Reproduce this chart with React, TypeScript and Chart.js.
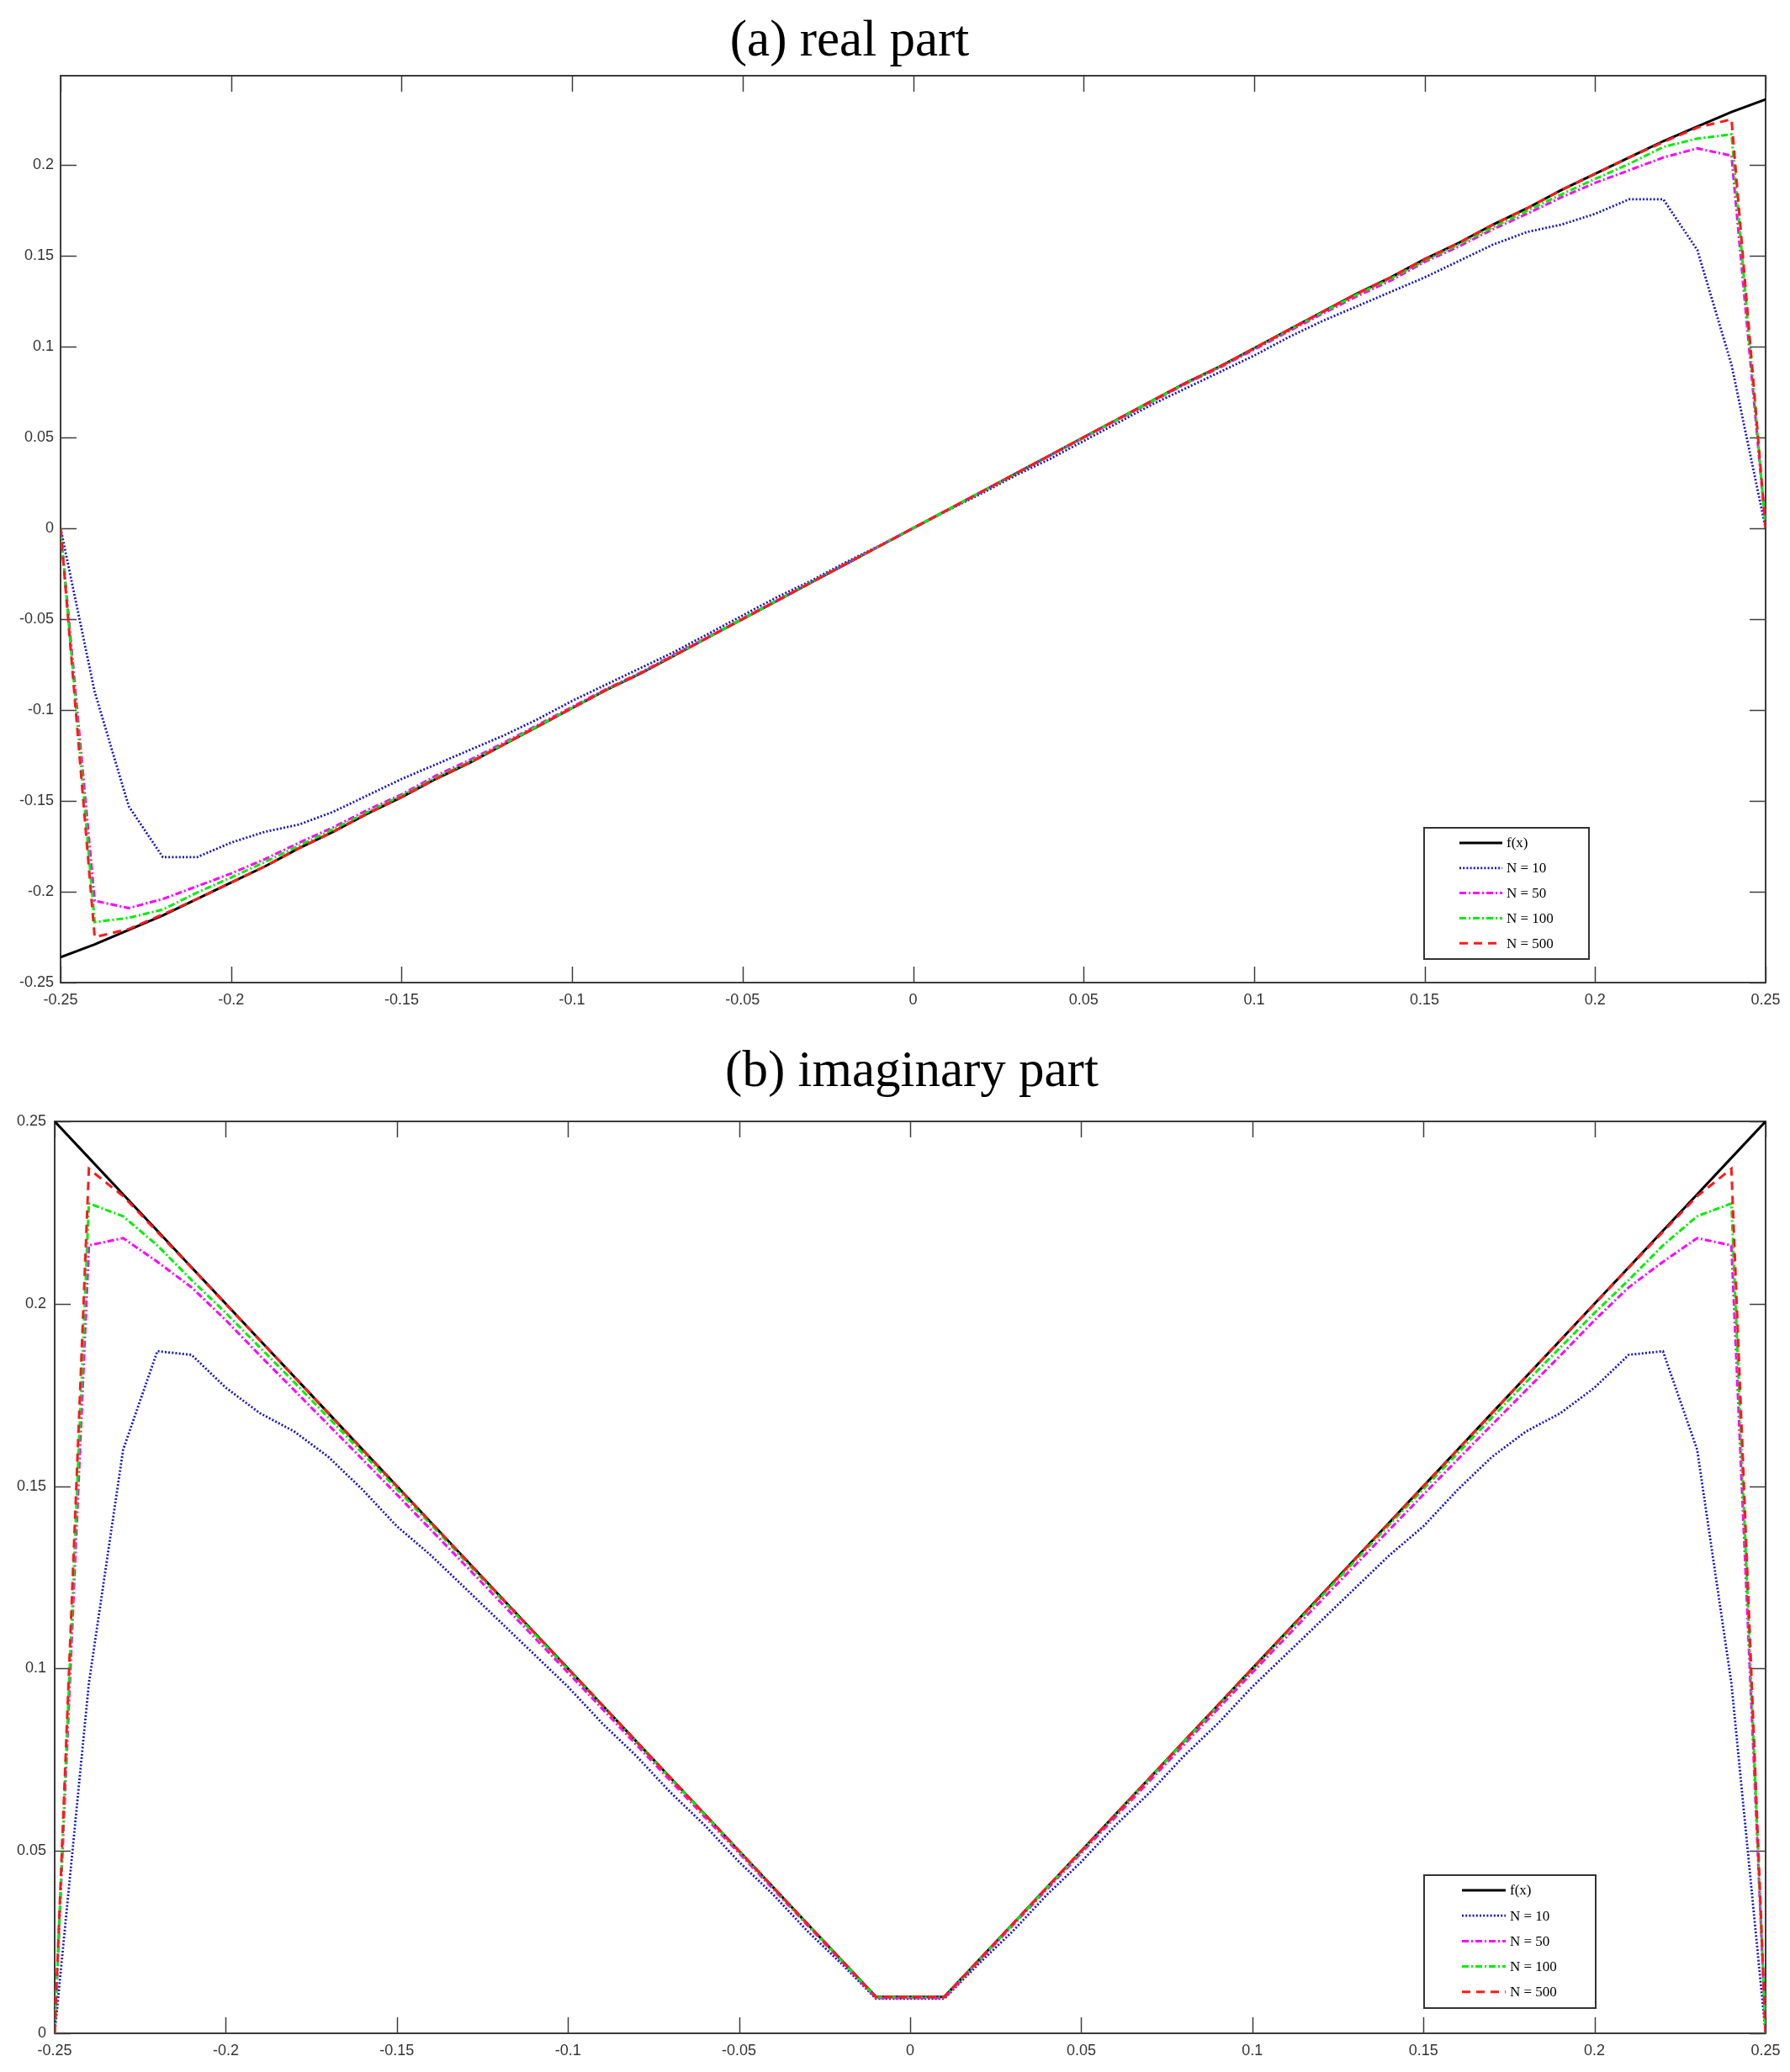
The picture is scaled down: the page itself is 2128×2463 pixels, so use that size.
import React, { useEffect, useRef } from "react";
import { Chart, registerables } from "chart.js";

Chart.register(...registerables);

// ---------- data ----------
const XS = [-0.25,-0.24,-0.23,-0.22,-0.21,-0.2,-0.19,-0.18,-0.17,-0.16,-0.15,-0.14,-0.13,-0.12,-0.11,-0.1,-0.09,-0.08,-0.07,-0.06,-0.05,-0.04,-0.03,-0.02,-0.01,0,0.01,0.02,0.03,0.04,0.05,0.06,0.07,0.08,0.09,0.1,0.11,0.12,0.13,0.14,0.15,0.16,0.17,0.18,0.19,0.2,0.21,0.22,0.23,0.24,0.25];

const X_TICKS = [-0.25,-0.2,-0.15,-0.1,-0.05,0,0.05,0.1,0.15,0.2,0.25];
const RE_Y_TICKS = [-0.25,-0.2,-0.15,-0.1,-0.05,0,0.05,0.1,0.15,0.2];
const IM_Y_TICKS = [0,0.05,0.1,0.15,0.2,0.25];

const LEGEND_LABELS = ["f(x)", "N = 10", "N = 50", "N = 100", "N = 500"];

// (a) real part
const RE_F = [-0.236,-0.229,-0.221,-0.213,-0.204,-0.195,-0.186,-0.176,-0.167,-0.157,-0.148,-0.138,-0.129,-0.119,-0.109,-0.099,-0.089,-0.08,-0.07,-0.06,-0.05,-0.04,-0.03,-0.02,-0.01,0,0.01,0.02,0.03,0.04,0.05,0.06,0.07,0.08,0.089,0.099,0.109,0.119,0.129,0.138,0.148,0.157,0.167,0.176,0.186,0.195,0.204,0.213,0.221,0.229,0.236];
const RE_N10 = [0,-0.09,-0.153,-0.181,-0.181,-0.173,-0.167,-0.163,-0.156,-0.147,-0.138,-0.13,-0.122,-0.114,-0.105,-0.095,-0.086,-0.077,-0.068,-0.058,-0.048,-0.038,-0.029,-0.019,-0.0097,0,0.0097,0.019,0.029,0.038,0.048,0.058,0.068,0.077,0.086,0.095,0.105,0.114,0.122,0.13,0.138,0.147,0.156,0.163,0.167,0.173,0.181,0.181,0.153,0.09,0];
const RE_N50 = [0,-0.205,-0.209,-0.204,-0.197,-0.19,-0.182,-0.173,-0.1645,-0.155,-0.1465,-0.1362,-0.1275,-0.118,-0.1082,-0.0983,-0.0885,-0.0795,-0.0695,-0.0597,-0.0498,-0.0398,-0.0299,-0.0199,-0.0099,0,0.0099,0.0199,0.0299,0.0398,0.0498,0.0597,0.0695,0.0795,0.0885,0.0983,0.1082,0.118,0.1275,0.1362,0.1465,0.155,0.1645,0.173,0.182,0.19,0.197,0.204,0.209,0.205,0];
const RE_N100 = [0,-0.2167,-0.2144,-0.2098,-0.2005,-0.1922,-0.1836,-0.1746,-0.1656,-0.1562,-0.1472,-0.1373,-0.1285,-0.1187,-0.1088,-0.0989,-0.0889,-0.0798,-0.0699,-0.0599,-0.0499,-0.0399,-0.0299,-0.02,-0.01,0,0.01,0.02,0.0299,0.0399,0.0499,0.0599,0.0699,0.0798,0.0889,0.0989,0.1088,0.1187,0.1285,0.1373,0.1472,0.1562,0.1656,0.1746,0.1836,0.1922,0.2005,0.2098,0.2144,0.2167,0];
const RE_N500 = [0,-0.225,-0.2205,-0.2125,-0.204,-0.195,-0.186,-0.176,-0.167,-0.157,-0.148,-0.138,-0.129,-0.119,-0.109,-0.099,-0.089,-0.08,-0.07,-0.06,-0.05,-0.04,-0.03,-0.02,-0.01,0,0.01,0.02,0.03,0.04,0.05,0.06,0.07,0.08,0.089,0.099,0.109,0.119,0.129,0.138,0.148,0.157,0.167,0.176,0.186,0.195,0.204,0.2125,0.2205,0.225,0];

// (b) imaginary part (no sample at x = 0)
const IM_F = [0.25,0.24,0.23,0.22,0.21,0.2,0.19,0.18,0.17,0.16,0.15,0.14,0.13,0.12,0.11,0.1,0.09,0.08,0.07,0.06,0.05,0.04,0.03,0.02,0.01,null,0.01,0.02,0.03,0.04,0.05,0.06,0.07,0.08,0.09,0.1,0.11,0.12,0.13,0.14,0.15,0.16,0.17,0.18,0.19,0.2,0.21,0.22,0.23,0.24,0.25];
const IM_N10 = [0,0.096,0.16,0.187,0.186,0.177,0.17,0.165,0.158,0.149,0.139,0.131,0.122,0.113,0.104,0.095,0.085,0.076,0.066,0.057,0.047,0.038,0.028,0.019,0.0095,null,0.0095,0.019,0.028,0.038,0.047,0.057,0.066,0.076,0.085,0.095,0.104,0.113,0.122,0.131,0.139,0.149,0.158,0.165,0.17,0.177,0.186,0.187,0.16,0.096,0];
const IM_N50 = [0,0.216,0.218,0.2115,0.2045,0.1955,0.1858,0.1763,0.1668,0.1573,0.1477,0.138,0.1283,0.1185,0.1087,0.0989,0.089,0.0791,0.0692,0.0593,0.0494,0.0395,0.0296,0.0197,0.0097,null,0.0097,0.0197,0.0296,0.0395,0.0494,0.0593,0.0692,0.0791,0.089,0.0989,0.1087,0.1185,0.1283,0.138,0.1477,0.1573,0.1668,0.1763,0.1858,0.1955,0.2045,0.2115,0.218,0.216,0];
const IM_N100 = [0,0.2275,0.224,0.216,0.2065,0.1975,0.188,0.1785,0.1688,0.159,0.1492,0.1394,0.1295,0.1196,0.1097,0.0998,0.0899,0.0799,0.0699,0.0599,0.0499,0.0399,0.0299,0.0199,0.0099,null,0.0099,0.0199,0.0299,0.0399,0.0499,0.0599,0.0699,0.0799,0.0899,0.0998,0.1097,0.1196,0.1295,0.1394,0.1492,0.159,0.1688,0.1785,0.188,0.1975,0.2065,0.216,0.224,0.2275,0];
const IM_N500 = [0,0.237,0.2295,0.2197,0.2099,0.1999,0.19,0.18,0.17,0.16,0.15,0.14,0.13,0.12,0.11,0.1,0.09,0.08,0.07,0.06,0.05,0.04,0.03,0.02,0.01,null,0.01,0.02,0.03,0.04,0.05,0.06,0.07,0.08,0.09,0.1,0.11,0.12,0.13,0.14,0.15,0.16,0.17,0.18,0.19,0.1999,0.2099,0.2197,0.2295,0.237,0];

// ---------- styles ----------
const STYLES = [
  { color: "#000000", dash: [] as number[], width: 3 },
  { color: "#1414c8", dash: [2, 2.2], width: 2.8 },
  { color: "#ff00ff", dash: [8, 3, 2, 3], width: 3 },
  { color: "#00ee00", dash: [8, 3, 2, 3], width: 3 },
  { color: "#ff1a1a", dash: [10, 7], width: 3 },
];

const AXIS_COLOR = "#3c3c3c";
const LABEL_COLOR = "#333333";

const framePlugin = {
  id: "matlabFrame",
  beforeDatasetsDraw(chart: any) {
    const { ctx, chartArea: a, scales } = chart;
    const L = 19;
    ctx.save();
    ctx.strokeStyle = AXIS_COLOR;
    ctx.lineWidth = 1.5;
    const seg = (x1: number, y1: number, x2: number, y2: number) => {
      ctx.beginPath();
      ctx.moveTo(x1, y1);
      ctx.lineTo(x2, y2);
      ctx.stroke();
    };
    scales.x.ticks.forEach((t: any) => {
      const px = Math.round(scales.x.getPixelForValue(t.value)) + 0.5;
      seg(px, a.bottom, px, a.bottom - L);
      seg(px, a.top, px, a.top + L);
    });
    scales.y.ticks.forEach((t: any) => {
      const py = Math.round(scales.y.getPixelForValue(t.value)) + 0.5;
      seg(a.left, py, a.left + L, py);
      seg(a.right, py, a.right - L, py);
    });
    ctx.lineWidth = 2;
    ctx.strokeRect(a.left, a.top, a.right - a.left, a.bottom - a.top);
    ctx.restore();
  },
};

const legendPlugin = {
  id: "boxLegend",
  afterDatasetsDraw(chart: any, _args: any, opts: any) {
    const { ctx, chartArea: a } = chart;
    const bx = a.right - opts.right - opts.width;
    const by = a.bottom - opts.bottom - opts.height;
    ctx.save();
    ctx.fillStyle = "#ffffff";
    ctx.fillRect(bx, by, opts.width, opts.height);
    ctx.strokeStyle = "#333333";
    ctx.lineWidth = 2;
    ctx.strokeRect(bx, by, opts.width, opts.height);
    chart.data.datasets.forEach((ds: any, i: number) => {
      const y = by + opts.firstRow + i * opts.rowGap;
      ctx.strokeStyle = ds.borderColor;
      ctx.lineWidth = ds.borderWidth;
      ctx.setLineDash(ds.borderDash || []);
      ctx.beginPath();
      ctx.moveTo(bx + opts.lineStart, y);
      ctx.lineTo(bx + opts.lineEnd, y);
      ctx.stroke();
      ctx.setLineDash([]);
      ctx.fillStyle = "#000000";
      ctx.font = '17px "Liberation Serif", "DejaVu Serif", serif';
      ctx.textBaseline = "middle";
      ctx.textAlign = "left";
      ctx.fillText(ds.label, bx + opts.textX, y + 1);
    });
    ctx.restore();
  },
};

function makeDatasets(series: (number | null)[][]) {
  return series.map((arr, i) => ({
    label: LEGEND_LABELS[i],
    data: XS.map((x, j) => ({ x, y: arr[j] })),
    borderColor: STYLES[i].color,
    borderDash: STYLES[i].dash,
    borderWidth: STYLES[i].width,
    pointRadius: 0,
    tension: 0,
    spanGaps: true,
    fill: false,
    order: 5 - i,
    borderJoinStyle: "miter" as const,
  }));
}

type PanelCfg = {
  series: (number | null)[][];
  yMin: number;
  yMax: number;
  yTicks: number[];
  padTop: number;
  padRight: number;
  yAxisWidth: number;
  xAxisHeight: number;
  yLabelPad: number;
  legend: any;
};

function Panel({ cfg, width, height }: { cfg: PanelCfg; width: number; height: number }) {
  const ref = useRef<HTMLCanvasElement | null>(null);
  useEffect(() => {
    if (!ref.current) return;
    const tickFont = { family: '"Liberation Sans", Arial, sans-serif', size: 18 };
    const chart = new Chart(ref.current, {
      type: "line",
      data: { datasets: makeDatasets(cfg.series) as any },
      options: {
        animation: false,
        responsive: false,
        devicePixelRatio: 1,
        layout: { padding: { top: cfg.padTop, right: cfg.padRight, left: 0, bottom: 0 } },
        plugins: {
          legend: { display: false },
          tooltip: { enabled: false },
          title: { display: false },
          boxLegend: cfg.legend,
        } as any,
        scales: {
          x: {
            type: "linear",
            min: -0.25,
            max: 0.25,
            afterBuildTicks: (s: any) => {
              s.ticks = X_TICKS.map((v) => ({ value: v }));
            },
            afterFit: (s: any) => {
              s.height = cfg.xAxisHeight;
            },
            grid: { display: false, drawTicks: false },
            border: { display: false },
            ticks: {
              font: tickFont,
              color: LABEL_COLOR,
              padding: 10,
              maxRotation: 0,
              autoSkip: false,
              callback: (v: any) => String(v),
            },
          },
          y: {
            type: "linear",
            min: cfg.yMin,
            max: cfg.yMax,
            afterBuildTicks: (s: any) => {
              s.ticks = cfg.yTicks.map((v) => ({ value: v }));
            },
            afterFit: (s: any) => {
              s.width = cfg.yAxisWidth;
            },
            grid: { display: false, drawTicks: false },
            border: { display: false },
            ticks: {
              font: tickFont,
              color: LABEL_COLOR,
              padding: cfg.yLabelPad,
              autoSkip: false,
              callback: (v: any) => String(v),
            },
          },
        },
      },
      plugins: [framePlugin, legendPlugin],
    } as any);
    return () => chart.destroy();
  }, [cfg]);
  return <canvas ref={ref} width={width} height={height} style={{ display: "block", width, height }} />;
}

const RE_CFG: PanelCfg = {
  series: [RE_F, RE_N10, RE_N50, RE_N100, RE_N500],
  yMin: -0.25,
  yMax: 0.249,
  yTicks: RE_Y_TICKS,
  padTop: 90,
  padRight: 29,
  yAxisWidth: 72,
  xAxisHeight: 62,
  yLabelPad: 8,
  legend: { right: 210, bottom: 28, width: 196, height: 156, firstRow: 18, rowGap: 29.8, lineStart: 42, lineEnd: 93, textX: 98 },
};

const IM_CFG: PanelCfg = {
  series: [IM_F, IM_N10, IM_N50, IM_N100, IM_N500],
  yMin: 0,
  yMax: 0.25,
  yTicks: IM_Y_TICKS,
  padTop: 103,
  padRight: 29,
  yAxisWidth: 65,
  xAxisHeight: 46,
  yLabelPad: 10,
  legend: { right: 202, bottom: 30, width: 204, height: 158, firstRow: 18, rowGap: 30.2, lineStart: 45, lineEnd: 97, textX: 102 },
};

const titleStyle: React.CSSProperties = {
  position: "absolute",
  fontFamily: '"Liberation Serif", "Times New Roman", serif',
  fontSize: 61,
  lineHeight: "61px",
  color: "#000",
  textAlign: "center",
  whiteSpace: "nowrap",
};

export default function App() {
  return (
    <div style={{ position: "absolute", left: 0, top: 0, width: 2128, height: 2463, background: "#fff", overflow: "hidden" }}>
      <div style={{ position: "absolute", left: 0, top: 0 }}>
        <Panel cfg={RE_CFG} width={2128} height={1230} />
      </div>
      <div style={{ position: "absolute", left: 0, top: 1230 }}>
        <Panel cfg={IM_CFG} width={2128} height={1233} />
      </div>
      <div style={{ ...titleStyle, left: 0, width: 2020, top: 15 }}>(a) real part</div>
      <div style={{ ...titleStyle, left: 0, width: 2168, top: 1240 }}>(b) imaginary part</div>
    </div>
  );
}
